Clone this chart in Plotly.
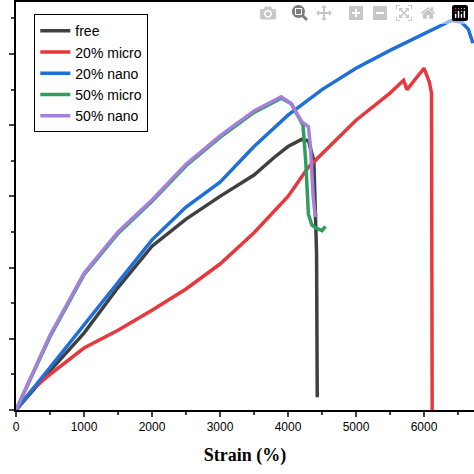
import plotly.graph_objects as go

free_x = [0, 500, 1000, 1500, 2000, 2500, 3000, 3500, 3800, 4000, 4200, 4300, 4380, 4420, 4430]
free_y = [0, 0.55, 1.08, 1.72, 2.3, 2.68, 3.0, 3.3, 3.55, 3.7, 3.8, 3.78, 3.5, 2.2, 0.18]

micro20_x = [0, 250, 500, 1000, 1500, 2000, 2500, 3000, 3500, 4000, 4300, 4500, 5000, 5500, 5700, 5750, 5850, 6000, 6080, 6110, 6120]
micro20_y = [0, 0.3, 0.5, 0.87, 1.12, 1.4, 1.7, 2.05, 2.49, 3.0, 3.41, 3.6, 4.07, 4.45, 4.63, 4.5, 4.62, 4.8, 4.6, 4.45, 0]

nano20_x = [0, 500, 1000, 1500, 2000, 2500, 3000, 3500, 4000, 4500, 5000, 5500, 6000, 6400, 6550, 6650, 6720]
nano20_y = [0, 0.6, 1.19, 1.8, 2.39, 2.85, 3.2, 3.7, 4.14, 4.5, 4.8, 5.05, 5.29, 5.47, 5.45, 5.35, 5.15]

micro50_x = [0, 500, 1000, 1500, 2000, 2500, 3000, 3500, 3900, 4050, 4220, 4260, 4300, 4350, 4420, 4500, 4550]
micro50_y = [0, 1.03, 1.9, 2.48, 2.93, 3.43, 3.83, 4.18, 4.38, 4.3, 4.0, 3.5, 2.75, 2.6, 2.55, 2.52, 2.58]

nano50_x = [0, 500, 1000, 1500, 2000, 2500, 3000, 3500, 3900, 4050, 4200, 4300, 4330, 4370, 4400, 4430]
nano50_y = [0, 1.05, 1.92, 2.5, 2.95, 3.45, 3.85, 4.2, 4.4, 4.3, 4.05, 3.98, 3.7, 3.0, 2.72, 2.75]

series = [
    ('free', free_x, free_y, '#404040'),
    ('20% micro', micro20_x, micro20_y, '#e8383d'),
    ('20% nano', nano20_x, nano20_y, '#1f6fd6'),
    ('50% micro', micro50_x, micro50_y, '#2e9e5e'),
    ('50% nano', nano50_x, nano50_y, '#a57fdc'),
]

fig = go.Figure()
for name, x, y, c in series:
    fig.add_trace(go.Scatter(x=x, y=y, mode='lines', name=name,
                             line=dict(color=c, width=3.5)))

fig.update_layout(
    width=474, height=474,
    margin=dict(l=16, r=0, t=2, b=64, autoexpand=False),
    plot_bgcolor='white', paper_bgcolor='white',
    font=dict(family='Arial', color='black'),
    legend=dict(x=0.04, y=0.97, xanchor='left', yanchor='top',
                bordercolor='black', borderwidth=1, bgcolor='white',
                font=dict(size=14), tracegroupgap=0),
    xaxis=dict(
        range=[0, 6735], tickvals=[0, 1000, 2000, 3000, 4000, 5000, 6000],
        ticks='outside', ticklen=5, tickwidth=1.5, showgrid=False, zeroline=False,
        showline=True, linecolor='black', linewidth=1.5, mirror='ticks',
        tickfont=dict(size=12, family='Arial Black, Arial'),
        minor=dict(dtick=500, ticks='outside', ticklen=3),
        title=dict(text='<b>Strain (%)</b>',
                   font=dict(family='Times New Roman, Liberation Serif', size=18)),
    ),
    yaxis=dict(
        range=[0, 5.73], dtick=1, showticklabels=False,
        ticks='outside', ticklen=5, tickwidth=1.5, showgrid=False, zeroline=False,
        showline=True, linecolor='black', linewidth=1.5, mirror='ticks',
        minor=dict(dtick=0.5, ticks='outside', ticklen=3),
    ),
)

fig.write_html('out.html', post_script="document.body.style.margin='0';")
